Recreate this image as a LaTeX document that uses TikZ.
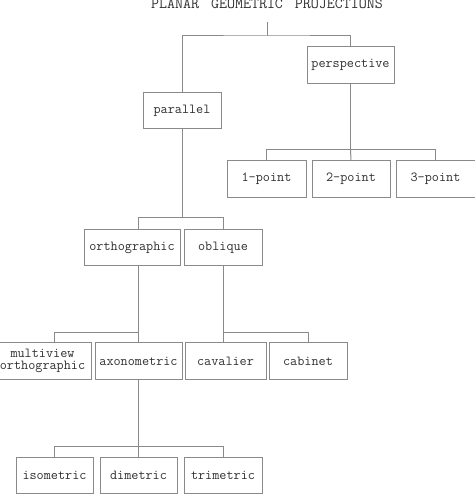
\documentclass[tikz,border=0pt]{standalone}
\definecolor{linegray}{HTML}{8A8A8A}
\definecolor{textgray}{HTML}{303030}
\begin{document}
\begin{tikzpicture}[x=1pt,y=-1pt]
			\tikzstyle{box} = [draw=linegray, line width=1pt, rectangle, minimum height=36.5pt, minimum width=78pt, inner sep=0pt, text=textgray, font=\fontsize{13.8}{12.5}\selectfont\ttfamily]
			\tikzstyle{wire} = [linegray, line width=1pt]
			\useasboundingbox (0,0) rectangle (474,494);

			\node[anchor=base, inner sep=0pt, text=textgray, font=\fontsize{15.5}{16}\selectfont\ttfamily] (title) at (267,9) {PLANAR\hskip4pt{} GEOMETRIC\hskip4pt{} PROJECTIONS};

			\node[box, minimum width=87pt] (persp) at (350.5,65) {perspective};
			\node[box] (par) at (182,110.5) {parallel};
			\node[box, minimum width=79pt] (pt1) at (266.5,179) {1-point};
			\node[box] (pt2) at (351,179) {2-point};
			\node[box, minimum width=79pt] (pt3) at (435.5,179) {3-point};
			\node[box, minimum width=96pt] (ortho) at (132,247.5) {orthographic};
			\node[box] (obl) at (223,247.5) {oblique};
			\node[box, minimum width=97pt, align=center] (multi) at (42.5,361) {multiview\\orthographic};
			\node[box, minimum width=87pt] (axon) at (138.5,361) {axonometric};
			\node[box, minimum width=81pt] (cav) at (225.5,361) {cavalier};
			\node[box] (cab) at (308,361) {cabinet};
			\node[box, minimum width=77pt] (iso) at (54.5,475.5) {isometric};
			\node[box, minimum width=77pt] (dim) at (138.5,475.5) {dimetric};
			\node[box] (tri) at (223,475.5) {trimetric};

			\coordinate (root) at (267,22);
			\draw[wire] (root) -- ++(0,14) coordinate (j0);
			\draw[wire] (par.north) |- (j0) -| (persp.north);

			\draw[wire] (persp.south) -- ++(0,66) coordinate (j1);
			\draw[wire] (pt1.north) |- (j1) -| (pt3.north);
			\draw[wire] (pt2.north) -- (j1);

			\draw[wire] (par.south) -- ++(0,88) coordinate (j2);
			\draw[wire] (axon.north |- ortho.north) |- (j2) -| (obl.north);

			\draw[wire] (axon.north |- ortho.south) -- ++(0,66) coordinate (j3) -- (axon.north);
			\draw[wire] (iso.north |- multi.north) |- (j3);

			\draw[wire] (obl.south) -- ++(0,66) coordinate (j4);
			\draw[wire] (j4 |- cav.north) -- (j4) -| (cab.north);

			\draw[wire] (axon.south) -- ++(0,67) coordinate (j5);
			\draw[wire] (iso.north) |- (j5) -| (tri.north);
			\draw[wire] (dim.north) -- (j5);
\end{tikzpicture}
\end{document}
